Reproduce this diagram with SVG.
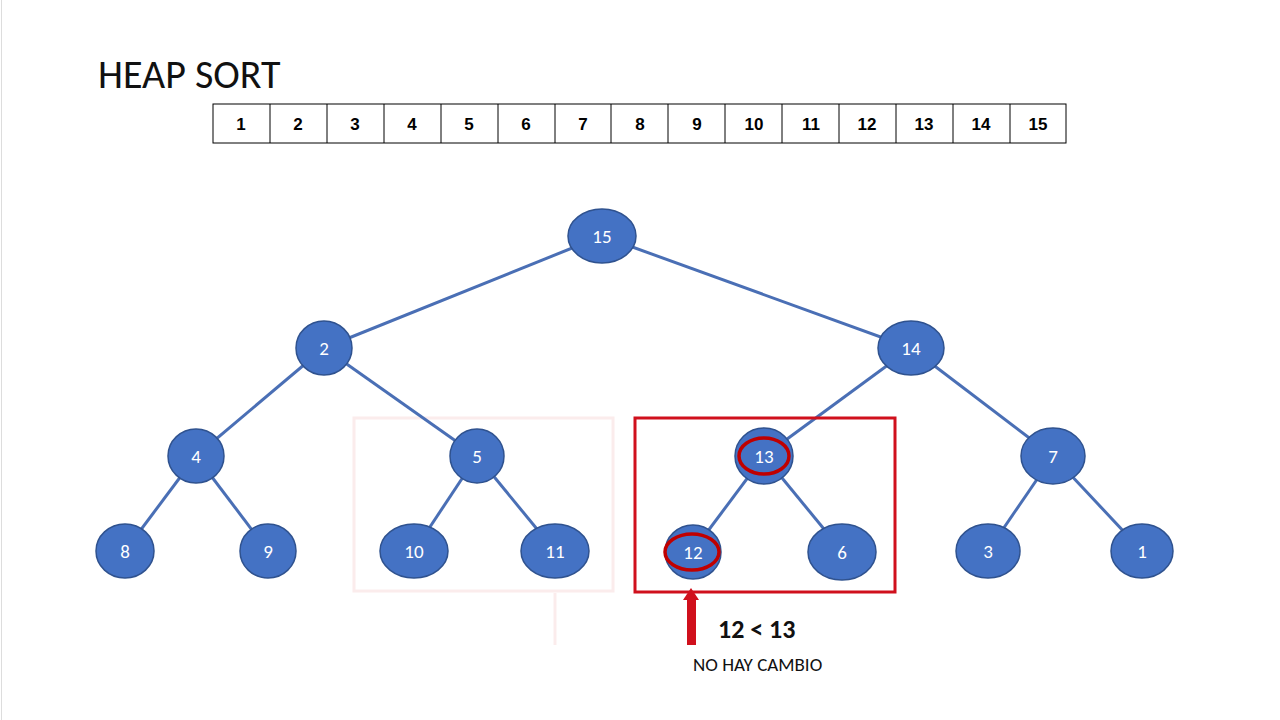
<svg xmlns="http://www.w3.org/2000/svg" width="1280" height="720" viewBox="0 0 1280 720">
<style>
.n ellipse{fill:#4472c4;stroke:#2f528f;stroke-width:1.5}
.n text{fill:#fff;font-family:Calibri,"Liberation Sans",sans-serif;font-size:19px;text-anchor:middle;dominant-baseline:central}
.c line{stroke:#4a6fb5;stroke-width:3}
.t rect{fill:#fff;stroke:#000;stroke-width:1}
.t text{font-family:"Liberation Sans",sans-serif;font-size:17px;font-weight:bold;text-anchor:middle;dominant-baseline:central}
.hl{fill:none;stroke:#c00000;stroke-width:3.5}
</style>
<rect width="1280" height="720" fill="#fff"/>
<line x1="1.5" y1="0" x2="1.5" y2="720" stroke="#ddd"/>
<text x="98" y="88" font-family="Calibri,'Liberation Sans',sans-serif" font-size="40" fill="#111">HEAP SORT</text>
<g class="t">
<rect x="213" y="104" width="853" height="39"/>
<g stroke="#000"><line x1="270" y1="104" x2="270" y2="143"/><line x1="327" y1="104" x2="327" y2="143"/><line x1="384" y1="104" x2="384" y2="143"/><line x1="441" y1="104" x2="441" y2="143"/><line x1="498" y1="104" x2="498" y2="143"/><line x1="555" y1="104" x2="555" y2="143"/><line x1="611" y1="104" x2="611" y2="143"/><line x1="668" y1="104" x2="668" y2="143"/><line x1="725" y1="104" x2="725" y2="143"/><line x1="782" y1="104" x2="782" y2="143"/><line x1="839" y1="104" x2="839" y2="143"/><line x1="896" y1="104" x2="896" y2="143"/><line x1="953" y1="104" x2="953" y2="143"/><line x1="1010" y1="104" x2="1010" y2="143"/></g>
<text x="241" y="124">1</text><text x="298" y="124">2</text><text x="355" y="124">3</text><text x="412" y="124">4</text><text x="469" y="124">5</text><text x="526" y="124">6</text><text x="583" y="124">7</text><text x="640" y="124">8</text><text x="697" y="124">9</text><text x="754" y="124">10</text><text x="811" y="124">11</text><text x="867" y="124">12</text><text x="924" y="124">13</text><text x="981" y="124">14</text><text x="1038" y="124">15</text>
</g>
<g fill="none" stroke="#fbecec" stroke-width="3"><rect x="354" y="418" width="259" height="173"/><line x1="555" y1="593" x2="555" y2="645"/></g>
<g class="c">
<line x1="602" y1="236" x2="324" y2="348"/><line x1="602" y1="236" x2="911" y2="348"/>
<line x1="324" y1="348" x2="196" y2="456"/><line x1="324" y1="348" x2="477" y2="456"/>
<line x1="911" y1="348" x2="764" y2="456"/><line x1="911" y1="348" x2="1053" y2="456"/>
<line x1="196" y1="456" x2="125" y2="551"/><line x1="196" y1="456" x2="268" y2="551"/>
<line x1="477" y1="456" x2="414" y2="551"/><line x1="477" y1="456" x2="555" y2="551"/>
<line x1="764" y1="456" x2="693" y2="551"/><line x1="764" y1="456" x2="842" y2="551"/>
<line x1="1053" y1="456" x2="988" y2="551"/><line x1="1053" y1="456" x2="1142" y2="551"/>
</g>
<g id="n15" class="n"><ellipse cx="602" cy="236" rx="34" ry="27"/><text x="602" y="236">15</text></g>
<g id="n2" class="n"><ellipse cx="324" cy="348" rx="28" ry="27"/><text x="324" y="348">2</text></g>
<g id="n14" class="n"><ellipse cx="911" cy="348" rx="33" ry="27"/><text x="911" y="348">14</text></g>
<g id="n4" class="n"><ellipse cx="196" cy="456" rx="28" ry="27"/><text x="196" y="456">4</text></g>
<g id="n5" class="n"><ellipse cx="477" cy="456" rx="27" ry="27"/><text x="477" y="456">5</text></g>
<g id="n13" class="n"><ellipse cx="764" cy="456" rx="29" ry="28"/><text x="764" y="456">13</text></g>
<g id="n7" class="n"><ellipse cx="1053" cy="456" rx="32" ry="28"/><text x="1053" y="456">7</text></g>
<g id="n8" class="n"><ellipse cx="125" cy="551" rx="29" ry="27"/><text x="125" y="551">8</text></g>
<g id="n9" class="n"><ellipse cx="268" cy="551" rx="28" ry="27"/><text x="268" y="551">9</text></g>
<g id="n10" class="n"><ellipse cx="414" cy="551" rx="34" ry="27"/><text x="414" y="551">10</text></g>
<g id="n11" class="n"><ellipse cx="555" cy="551" rx="34" ry="27"/><text x="555" y="551">11</text></g>
<g id="n12" class="n"><ellipse cx="693" cy="552" rx="28" ry="27"/><text x="693" y="552">12</text></g>
<g id="n6" class="n"><ellipse cx="842" cy="552" rx="34" ry="28"/><text x="842" y="552">6</text></g>
<g id="n3" class="n"><ellipse cx="988" cy="551" rx="32" ry="27"/><text x="988" y="551">3</text></g>
<g id="n1" class="n"><ellipse cx="1142" cy="551" rx="31" ry="27"/><text x="1142" y="551">1</text></g>
<ellipse class="hl" cx="764" cy="456" rx="25" ry="18"/>
<ellipse class="hl" cx="692" cy="552" rx="27" ry="18"/>
<rect x="635" y="418" width="260" height="174" fill="none" stroke="#d0101c" stroke-width="3"/>
<g fill="#d0101c"><rect x="687" y="598" width="9" height="47"/><polygon points="683,600 691,588 699,600"/></g>
<text x="718" y="638" font-family="Calibri,'Liberation Sans',sans-serif" font-size="26" font-weight="bold" fill="#111">12 &lt; 13</text>
<text x="693" y="671" font-family="Calibri,'Liberation Sans',sans-serif" font-size="19" fill="#111">NO HAY CAMBIO</text>
</svg>
